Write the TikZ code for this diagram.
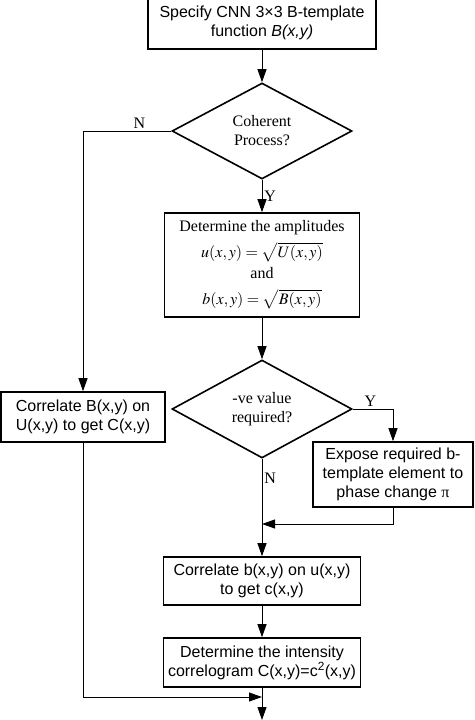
\documentclass[tikz,border=0pt]{standalone}
\usepackage{mathptmx}
\usepackage{fontspec}
\setmainfont{Liberation Serif}
\newfontfamily\arialfont{Liberation Sans}
\usetikzlibrary{shapes.geometric,arrows.meta}
\begin{document}
\begin{tikzpicture}[x=1pt,y=-1pt,font=\fontsize{16}{19}\selectfont,
	proc/.style={draw,line width=1.6pt,align=center,inner sep=0pt,
		font=\fontsize{16}{19}\selectfont\arialfont},
	dec/.style={draw,diamond,aspect=2,line width=1.6pt,align=center,
		inner sep=0pt,minimum width=180pt},
	flow/.style={line width=0.9pt,-{Triangle[length=13pt,width=9pt]}},
	lbl/.style={inner sep=2pt}]

\useasboundingbox (0,0) rectangle (474,720);

\node[proc,minimum width=228pt,minimum height=52pt] (spec) at (262,23)
	{Specify CNN 3×3 B-template\\function \textit{B(x,y)}};
\node[dec,minimum height=96pt] (coh) at (262,131) {Coherent\\Process?};
\node[proc,minimum width=195pt,minimum height=104pt,
	font=\fontsize{16}{19}\selectfont] (amp) at (262,265)
	{Determine the amplitudes\\[7pt]$u(x,y)=\sqrt{U(x,y)}$\\[2pt]and\\[7pt]$b(x,y)=\sqrt{B(x,y)}$};
\node[dec,minimum height=98pt] (neg) at (262,409) {-ve value\\required?};
\node[proc,minimum width=164pt,minimum height=50pt] (corB) at (83,417)
	{Correlate B(x,y) on\\U(x,y) to get C(x,y)};
\node[proc,minimum width=160pt,minimum height=65pt] (expo) at (393,474.5)
	{Expose required b-\\template element to\\phase change {\rmfamily π}};
\node[proc,minimum width=197pt,minimum height=48pt] (corb) at (262,581)
	{Correlate b(x,y) on u(x,y)\\to get c(x,y)};
\node[proc,minimum width=197pt,minimum height=49pt] (inten) at (262,662.5)
	{Determine the intensity\\correlogram C(x,y)=c\textsuperscript{2}(x,y)};

\coordinate (join) at (262,524);
\coordinate (merge) at (262,697);
\coordinate (out) at (262,720);

\draw[flow] (spec) -- (coh);
\draw[flow] (coh) -- node[midway,right,lbl] {Y} (amp);
\draw[flow] (coh.west) -| node[pos=0.18,above,lbl] {N} (corB.north);
\draw[flow] (amp) -- (neg);
\draw[flow] (neg.east) -| node[pos=0.22,above,lbl] {Y} (expo.north);
\draw[flow] (neg) -- node[pos=0.2,right,lbl] {N} (corb);
\draw[flow] (expo.south) |- (join);
\draw[flow] (corb) -- (inten);
\draw[flow] (corB.south) |- (merge);
\draw[flow] (inten) -- (out);

\end{tikzpicture}
\end{document}
